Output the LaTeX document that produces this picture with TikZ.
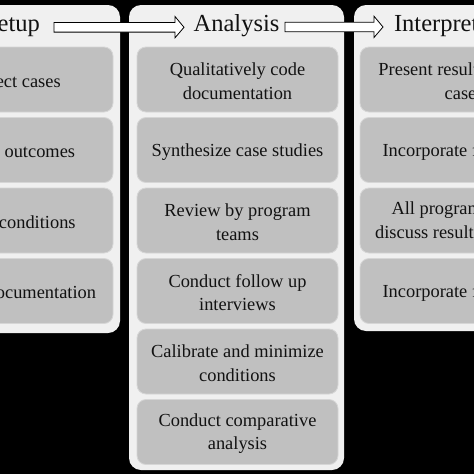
\documentclass[tikz,border=0pt]{standalone}
\usepackage{fontspec}
\setmainfont{Liberation Serif}
\usetikzlibrary{calc}
\definecolor{panelc}{RGB}{240,240,240}
\definecolor{boxc}{RGB}{192,192,192}
\definecolor{rimc}{RGB}{214,214,214}
\definecolor{inkc}{RGB}{18,18,18}
\tikzset{
  panel/.style={fill=panelc, rounded corners=12pt},
  stepbox/.style={fill=boxc, draw=rimc, line width=0.8pt, rounded corners=9pt, inner sep=0pt},
  steptext/.style={align=center, text=inkc, font=\fontsize{18.4}{23.5}\selectfont, inner sep=0pt},
  title/.style={anchor=base, text=inkc, font=\fontsize{24.5}{28}\selectfont, inner sep=0pt},
  blockarrow/.style={fill=white, draw=black, line width=0.8pt, line join=miter}
}
\newcommand\mybox[6]{%
  \node[stepbox, minimum width={(#4)-(#2)}, minimum height={(#5)-(#3)}]
    (#1) at ({((#2)+(#4))/2},{((#3)+(#5))/2}) {};
  \node[steptext, yshift=-1.6pt] (#1t) at (#1.center) {#6};}
\newcommand\blockarr[2]{%
  \draw[blockarrow] ($(#1)+(0,-4.8)$) -- ($(#2)+(-9,-4.8)$) -- ($(#2)+(-9,-10.8)$)
    -- (#2) -- ($(#2)+(-9,10.5)$) -- ($(#2)+(-9,4.8)$) -- ($(#1)+(0,4.8)$) -- cycle;}
\begin{document}
\begin{tikzpicture}[x=1pt,y=-1pt]
\useasboundingbox (0,0) rectangle (474,474);
\clip (0,0) rectangle (474,474);
\fill[black] (0,0) rectangle (474,474);

% panels
\path[panel] (-96,5) rectangle (120,333);
\path[panel] (129,5) rectangle (344,470);
\path[panel] (354,5) rectangle (570,331);

% titles
\node[title] (tsetup) at (12,31.7) {Setup};
\node[title] (tanalysis) at (236.5,31.7) {Analysis};
\node[title] (tinterp) at (460.7,31.7) {Interpretation};

% left column
\mybox{l1}{-80}{47}{113}{112}{Select cases}
\mybox{l2}{-88}{117.5}{113}{182.5}{Define outcomes}
\mybox{l3}{-88}{188}{113}{253}{Select conditions}
\mybox{l4}{-88}{258.5}{113}{323.5}{Collect documentation}

% middle column
\mybox{m1}{137}{47}{338}{112}{Qualitatively code\\documentation}
\mybox{m2}{137}{117.5}{338}{182.5}{Synthesize case studies}
\mybox{m3}{137}{188}{338}{253}{Review by program\\teams}
\mybox{m4}{137}{258.5}{338}{323.5}{Conduct follow up\\interviews}
\mybox{m5}{137}{329}{338}{394}{Calibrate and minimize\\conditions}
\mybox{m6}{137}{399.5}{338}{464.5}{Conduct comparative\\analysis}

% right column
\mybox{r1}{360}{47}{561}{112}{Present results to each\\case}
\mybox{r2}{360}{117.5}{561}{182.5}{Incorporate feedback}
\mybox{r3}{360}{188}{561}{253}{All program teams\\discuss results together}
\mybox{r4}{360}{258.5}{561}{323.5}{Incorporate feedback}

% arrows between titles
\coordinate (a1s) at (54,27.3);
\coordinate (a1e) at (184,27.3);
\coordinate (a2s) at (285,27);
\coordinate (a2e) at (383,27);
\blockarr{a1s}{a1e}
\blockarr{a2s}{a2e}
\end{tikzpicture}
\end{document}
